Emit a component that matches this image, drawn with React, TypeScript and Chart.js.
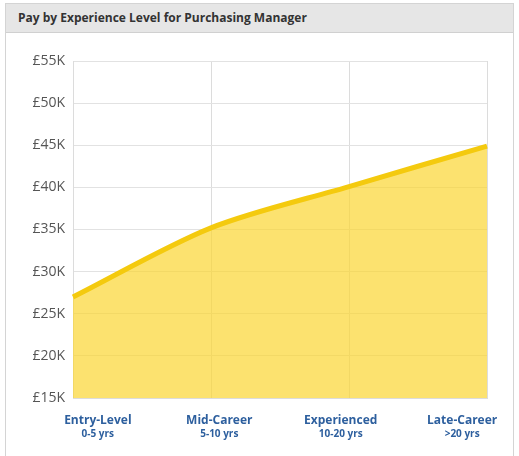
import React, { useEffect, useRef } from "react";
import { Chart, registerables, Plugin } from "chart.js";

Chart.register(...registerables);

const levels = ["Entry-Level", "Mid-Career", "Experienced", "Late-Career"];
const yearRanges = ["0-5 yrs", "5-10 yrs", "10-20 yrs", ">20 yrs"];
const pay = [27000, 35200, 40100, 44900];

const FONT = "'Open Sans', 'DejaVu Sans', sans-serif";

// draws the two-line category labels under the plot, pulled a bit toward the middle
const levelLabels: Plugin<"line"> = {
    id: "levelLabels",
    afterDraw(chart) {
        const { ctx, chartArea, scales } = chart;
        const x = scales.x;
        const mid = (chartArea.left + chartArea.right) / 2;
        ctx.save();
        ctx.textAlign = "center";
        ctx.textBaseline = "middle";
        ctx.fillStyle = "#2d5f9e";
        levels.forEach((lvl, i) => {
            const px = mid + (x.getPixelForValue(i) - mid) * 0.88;
            ctx.font = `bold 12px ${FONT}`;
            ctx.fillText(lvl, px, chartArea.bottom + 23);
            ctx.font = `bold 10px ${FONT}`;
            ctx.fillText(yearRanges[i], px, chartArea.bottom + 36);
        });
        ctx.restore();
    }
};

const PayChart = () => {
    const canvasRef = useRef<HTMLCanvasElement | null>(null);
    const chartRef = useRef<Chart | null>(null);

    useEffect(() => {
        if (!canvasRef.current) return;
        if (chartRef.current) chartRef.current.destroy();

        chartRef.current = new Chart(canvasRef.current, {
            type: "line",
            data: {
                labels: levels,
                datasets: [
                    {
                        data: pay,
                        borderColor: "#f4ca0e",
                        backgroundColor: "rgba(251, 214, 50, 0.7)",
                        borderWidth: 5,
                        fill: "start",
                        tension: 0.3,
                        pointRadius: 0,
                        pointHoverRadius: 0
                    }
                ]
            },
            options: {
                animation: false,
                responsive: false,
                maintainAspectRatio: false,
                layout: { padding: { top: 28, right: 26, bottom: 58, left: 0 } },
                plugins: {
                    legend: { display: false },
                    tooltip: { enabled: false }
                },
                scales: {
                    x: {
                        offset: false,
                        grid: { color: "#dcdcdc", drawTicks: false },
                        border: { color: "#dcdcdc" },
                        ticks: { display: false }
                    },
                    y: {
                        min: 15000,
                        max: 55000,
                        afterFit: (scale) => {
                            scale.width = 67;
                        },
                        grid: { color: "#e2e2e2", drawTicks: false },
                        border: { color: "#dcdcdc" },
                        ticks: {
                            stepSize: 5000,
                            padding: 8,
                            color: "#555",
                            font: { family: FONT, size: 14 },
                            callback: (v) => `£${Number(v) / 1000}K`
                        }
                    }
                }
            },
            plugins: [levelLabels]
        });

        return () => {
            chartRef.current?.destroy();
            chartRef.current = null;
        };
    }, []);

    return <canvas ref={canvasRef} width={507} height={423} style={{ display: "block" }} />;
};

export default function App() {
    useEffect(() => {
        document.body.style.margin = "0";
    }, []);

    return (
        <div
            style={{
                position: "absolute",
                left: 5,
                top: 3,
                width: 507,
                height: 470,
                border: "1px solid #d4d4d4",
                background: "#fff",
                fontFamily: FONT
            }}
        >
            <div
                style={{
                    height: 28,
                    background: "#e6e6e6",
                    borderBottom: "1px solid #d0d0d0",
                    color: "#333",
                    fontWeight: 700,
                    fontSize: 12,
                    lineHeight: "28px",
                    paddingLeft: 12
                }}
            >
                Pay by Experience Level for Purchasing Manager
            </div>
            <PayChart />
        </div>
    );
}
